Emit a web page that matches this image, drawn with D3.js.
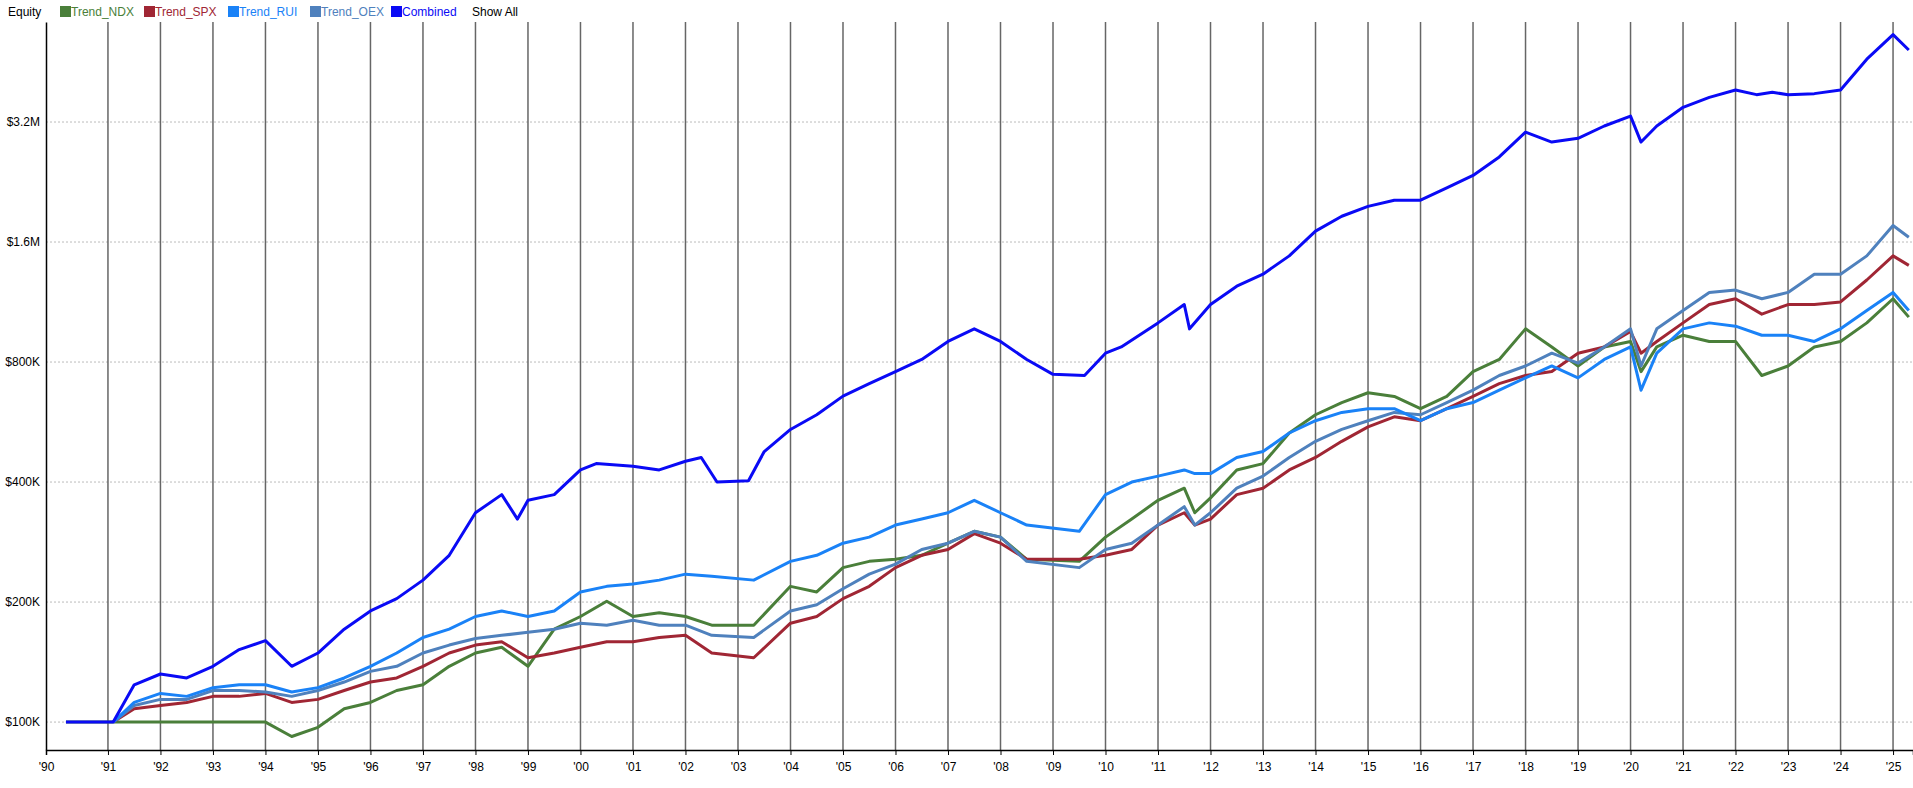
<!DOCTYPE html>
<html><head><meta charset="utf-8">
<script src="https://cdn.jsdelivr.net/npm/d3@7"></script>
<style>body{margin:0;background:#fff;font-family:"Liberation Sans",Arial,sans-serif}</style>
</head><body><svg id="c" width="1913" height="788"></svg>
<script>
const dates=[1991.1,1991.5,1992,1992.5,1993,1993.5,1994,1994.5,1995,1995.5,1996,1996.5,1997,1997.5,1998,1998.5,1999,1999.5,2000,2000.5,2001,2001.5,2002,2002.5,2003.3,2004,2004.5,2005,2005.5,2006,2006.5,2007,2007.5,2008,2008.5,2009.5,2010,2010.5,2011,2011.5,2011.7,2012,2012.5,2013,2013.5,2014,2014.5,2015,2015.5,2016,2016.5,2017,2017.5,2018,2018.5,2019,2019.5,2020,2020.2,2020.5,2021,2021.5,2022,2022.5,2023,2023.5,2024,2024.5,2025,2025.3];
const ndx=[100,100,100,100,100,100,100,92,97,108,112,120,124,138,149,154,138,171,184,201,184,188,184,175,175,219,212,244,253,256,262,281,301,291,256,253,291,323,360,386,335,365,429,445,531,590,633,670,656,611,656,757,812,969,873,782,873,901,757,873,934,901,901,740,782,873,901,1003,1153,1037];
const spx=[100,108,110,112,116,116,118,112,114,120,126,129,138,149,156,159,145,149,154,159,159,163,165,149,145,177,184,204,219,244,262,271,297,281,256,256,262,271,312,335,312,323,372,386,429,461,506,550,583,570,611,656,706,740,757,842,873,954,842,901,1003,1115,1153,1055,1115,1115,1132,1285,1477,1398];
const rui=[100,112,118,116,122,124,124,119,122,129,138,149,163,171,184,190,184,190,212,219,222,227,235,232,227,253,262,281,291,312,323,335,360,335,312,301,372,400,414,429,420,420,461,477,531,570,598,611,611,570,611,633,680,730,782,730,812,873,680,842,969,1003,984,934,934,901,969,1077,1196,1077];
const oex=[100,110,114,114,120,120,119,116,120,126,134,138,149,156,162,165,168,171,177,175,180,175,175,165,163,190,197,216,235,249,271,281,301,291,253,244,271,281,312,347,312,335,386,414,461,506,542,570,598,590,633,680,740,782,842,795,873,969,782,969,1077,1196,1212,1153,1196,1329,1329,1477,1760,1645];
const combDates=[1990.2,1991.1,1991.5,1992,1992.5,1993,1993.5,1994,1994.5,1995,1995.5,1996,1996.5,1997,1997.5,1998,1998.5,1998.8,1999,1999.5,2000,2000.3,2001,2001.5,2002,2002.3,2002.6,2003.2,2003.5,2004,2004.5,2005,2005.5,2006,2006.5,2007,2007.5,2008,2008.5,2009,2009.6,2010,2010.3,2011,2011.5,2011.6,2012,2012.5,2013,2013.5,2014,2014.5,2015,2015.5,2016,2016.5,2017,2017.5,2018,2018.5,2019,2019.5,2020,2020.2,2020.5,2021,2021.5,2022,2022.4,2022.7,2023,2023.5,2024,2024.5,2025,2025.3];
const combined=[100,100,124,132,129,138,152,160,138,149,171,190,204,227,262,335,372,323,360,372,429,445,438,429,451,461,400,403,477,542,590,657,706,757,812,901,969,901,812,745,740,842,873,1003,1115,969,1115,1240,1329,1477,1704,1857,1966,2037,2037,2188,2350,2616,3018,2850,2913,3127,3311,2850,3127,3483,3690,3850,3748,3800,3748,3770,3850,4600,5300,4850];
const seriesNames=["Trend_NDX","Trend_SPX","Trend_RUI","Trend_OEX","Combined"];
const colors=["#4a7f3a","#a02634","#1a82f7","#4f81bd","#0a0af5"];
const yTicks=[100,200,400,800,1600,3200];
const yTickLabels=["$100K","$200K","$400K","$800K","$1.6M","$3.2M"];
const yearTicks=d3.range(1991,2026);

const svg=d3.select("#c");
const L=46,R=1913,T=22,B=750;
const x=d3.scaleLinear().domain([1989.82,2025.38]).range([L,R]);
const y=d3.scaleLog().domain([85.1,5702]).range([B,T]);

// y grid
svg.append("g").selectAll("line").data(yTicks).join("line")
 .attr("x1",L).attr("x2",R).attr("y1",d=>y(d)).attr("y2",d=>y(d))
 .attr("stroke","#bbb").attr("stroke-dasharray","2,2");
// year gridlines
svg.append("g").selectAll("line").data(yearTicks).join("line")
 .attr("x1",d=>x(d)).attr("x2",d=>x(d)).attr("y1",T).attr("y2",B)
 .attr("stroke","#666").attr("stroke-width",1.5);

const line=d3.line().x(d=>x(d[0])).y(d=>y(d[1]));
const data=[ndx,spx,rui,oex].map(s=>dates.map((d,i)=>[d,s[i]]));
data[0].unshift([1990.2,100]);
data.push(combDates.map((d,i)=>[d,combined[i]]));
const order=[0,1,3,2,4];
order.forEach(k=>{
 svg.append("path").datum(data[k]).attr("d",line).attr("fill","none")
  .attr("stroke",colors[k]).attr("stroke-width",3).attr("stroke-linejoin","round");
});

// axes
const xa=svg.append("g").attr("transform",`translate(0,${B})`)
 .call(d3.axisBottom(x).tickValues([1989.82].concat(yearTicks)).tickSize(5)
 .tickFormat(d=>"'"+String(Math.round(d)%100).padStart(2,"0")));
xa.select(".domain").attr("stroke","#000").attr("stroke-width",1.5);
xa.selectAll("text").attr("font-size",12).attr("font-family","Liberation Sans, Arial").attr("dy","1.1em");
const ya=svg.append("g").attr("transform",`translate(${L},0)`)
 .call(d3.axisLeft(y).tickValues(yTicks).tickFormat((d,i)=>yTickLabels[i]).tickSize(0).tickPadding(6));
ya.select(".domain").attr("stroke","#000").attr("stroke-width",1.5);
ya.selectAll("text").attr("font-size",12).attr("font-family","Liberation Sans, Arial");

// legend
const lg=svg.append("g").attr("font-size",12).attr("font-family","Liberation Sans, Arial");
lg.append("text").attr("x",8).attr("y",16).text("Equity");
const lx=[60,144,228,310,391];
seriesNames.forEach((n,i)=>{
 lg.append("rect").attr("x",lx[i]).attr("y",6).attr("width",11).attr("height",11).attr("fill",colors[i]);
 lg.append("text").attr("x",lx[i]+11).attr("y",16).attr("fill",colors[i]).text(n);
});
lg.append("text").attr("x",472).attr("y",16).text("Show All");
</script></body></html>
